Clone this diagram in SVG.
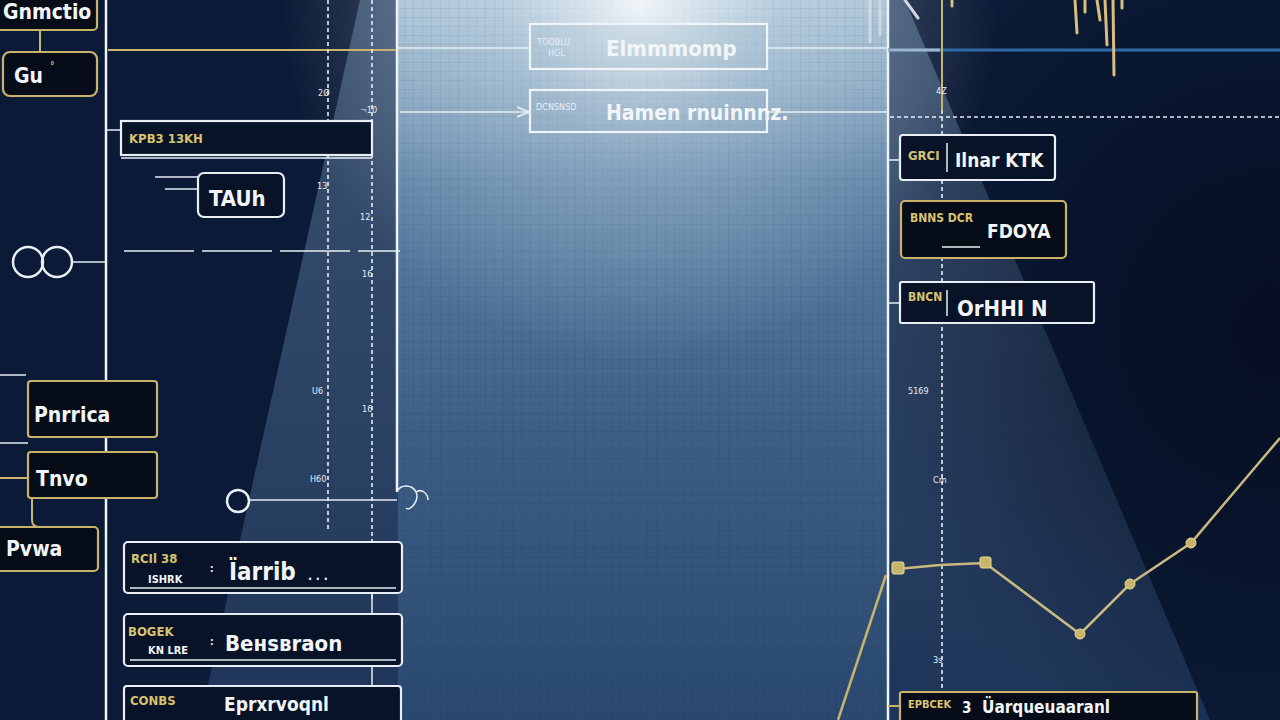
<svg xmlns="http://www.w3.org/2000/svg" width="1280" height="720" viewBox="0 0 1280 720">
<defs>
<linearGradient id="panel" x1="0" y1="0" x2="0" y2="1">
<stop offset="0" stop-color="#a9c3d6"/>
<stop offset="0.25" stop-color="#5d83a6"/>
<stop offset="0.6" stop-color="#3c5f86"/>
<stop offset="1" stop-color="#2a4870"/>
</linearGradient>
<radialGradient id="glow" cx="640" cy="0" r="360" gradientUnits="userSpaceOnUse">
<stop offset="0" stop-color="#ffffff" stop-opacity="0.85"/>
<stop offset="0.4" stop-color="#d6e4ee" stop-opacity="0.35"/>
<stop offset="1" stop-color="#d6e4ee" stop-opacity="0"/>
</radialGradient>
<linearGradient id="cone" x1="0" y1="0" x2="0" y2="1">
<stop offset="0" stop-color="#6e8eae" stop-opacity="0.45"/>
<stop offset="1" stop-color="#2a4670" stop-opacity="0.6"/>
</linearGradient>
<radialGradient id="rdark" cx="1280" cy="330" r="430" gradientUnits="userSpaceOnUse">
<stop offset="0" stop-color="#050d20" stop-opacity="0.9"/>
<stop offset="1" stop-color="#050d20" stop-opacity="0"/>
</radialGradient>
<pattern id="grid" width="9" height="9" patternUnits="userSpaceOnUse">
<path d="M9 0V9M0 9H9" fill="none" stroke="#0e2442" stroke-opacity="0.18" stroke-width="1"/>
</pattern>
<marker id="arr" viewBox="0 0 10 10" refX="9" refY="5" markerWidth="8" markerHeight="8" orient="auto">
<path d="M0 1L10 5L0 9" fill="none" stroke="#e8f0f6" stroke-width="1.5"/>
</marker>
</defs>
<style>
.w{fill:none;stroke:#eef3f7;stroke-width:2.5}
.wt{fill:none;stroke:#e6eef4;stroke-width:1.5}
.g{fill:none;stroke:#c8b46a;stroke-width:2}
.dash{fill:none;stroke:#e6eef4;stroke-width:1.6;stroke-dasharray:4 3}
.bx{fill:#081328;stroke:#e8eef4;stroke-width:2.2}
.gb{fill:#060c18;stroke:#c9b26a;stroke-width:2.2}
.lb{fill:none;stroke:#e8f0f6;stroke-width:2.5}
.t{font-family:"DejaVu Sans Condensed","Liberation Sans Narrow","Liberation Sans",sans-serif;fill:#f2f5f7;font-weight:bold}
.gt{font-family:"DejaVu Sans Condensed","Liberation Sans Narrow","Liberation Sans",sans-serif;fill:#d8c36e;font-weight:bold}
.s{font-family:"DejaVu Sans Condensed","Liberation Sans",sans-serif;fill:#e8eef4;font-size:9px}
</style>
<rect width="1280" height="720" fill="#0b1a36"/>
<polygon points="360,0 905,0 1210,720 200,720" fill="url(#cone)"/>
<rect x="0" y="0" width="1280" height="720" fill="url(#rdark)"/>
<rect x="398" y="0" width="490" height="720" fill="url(#panel)"/>
<rect x="398" y="0" width="490" height="720" fill="url(#grid)"/>
<rect x="0" y="0" width="1280" height="720" fill="url(#glow)"/>

<g id="connectors">
<line class="w" x1="106" y1="0" x2="106" y2="720"/>
<line class="w" x1="397" y1="0" x2="397" y2="492"/>
<line class="w" x1="888" y1="0" x2="888" y2="720"/>
<line class="g" x1="108" y1="50" x2="396" y2="50" stroke-width="1.8"/>
<line class="wt" x1="397" y1="48" x2="530" y2="48"/>
<line class="wt" x1="767" y1="48" x2="888" y2="48"/>
<line class="wt" x1="400" y1="112" x2="528" y2="112" marker-end="url(#arr)"/>
<line class="wt" x1="767" y1="112" x2="888" y2="112"/>
<line x1="888" y1="50" x2="1280" y2="50" stroke="#2f6aa8" stroke-width="3"/>
<line x1="888" y1="50" x2="940" y2="50" stroke="#9fb6ca" stroke-width="3"/>
<line class="dash" x1="890" y1="117" x2="1280" y2="117" stroke-dasharray="5 3"/>
<line x1="942" y1="0" x2="942" y2="110" stroke="#c8b46a" stroke-width="2"/>
<line class="dash" x1="942" y1="110" x2="942" y2="690"/>
<line class="dash" x1="328" y1="0" x2="328" y2="530"/>
<line class="dash" x1="372" y1="0" x2="372" y2="600"/>
<line class="g" x1="40" y1="30" x2="40" y2="52"/>
<line class="wt" x1="124" y1="251" x2="400" y2="251" stroke="#8fb0cc" stroke-dasharray="70 8"/>
<line class="wt" x1="72" y1="262" x2="106" y2="262" stroke-width="2.5"/>
<line class="wt" x1="250" y1="500" x2="397" y2="500" stroke-width="2.5"/>
<path class="wt" d="M397 492 C400 484 412 484 416 492 C420 500 410 512 406 508 M416 492 C422 488 428 494 428 500" stroke-width="2.5"/>
<line class="wt" x1="0" y1="375" x2="26" y2="375" stroke="#7f98b4"/>
<line class="wt" x1="0" y1="443" x2="28" y2="443" stroke="#7f98b4"/>
<line class="g" x1="0" y1="478" x2="28" y2="478"/>
<path class="g" d="M32 498 V520 Q32 527 40 527"/>
<line class="wt" x1="107" y1="130" x2="121" y2="130"/>
<line class="wt" x1="155" y1="177" x2="198" y2="177"/>
<line class="wt" x1="165" y1="189" x2="198" y2="189" stroke-width="2.5"/>
<line class="wt" x1="372" y1="593" x2="372" y2="614"/>
<line class="wt" x1="372" y1="666" x2="372" y2="686"/>
<line class="wt" x1="888" y1="160" x2="900" y2="160"/>
<line class="wt" x1="888" y1="303" x2="900" y2="303"/>
<line class="g" x1="888" y1="706" x2="900" y2="706"/>
<g stroke="#d8bf80" stroke-width="3" stroke-linecap="round">
<line x1="1075" y1="0" x2="1077" y2="33"/>
<line x1="1085" y1="0" x2="1085" y2="12"/>
<line x1="1097" y1="0" x2="1100" y2="20"/>
<line x1="1105" y1="0" x2="1107" y2="45"/>
<line x1="1113" y1="0" x2="1114" y2="75"/>
<line x1="1122" y1="0" x2="1122" y2="8"/>
<line x1="870" y1="0" x2="870" y2="42" stroke="#cfd8e0"/>
<line x1="880" y1="0" x2="880" y2="35" stroke="#cfd8e0"/>
<line x1="905" y1="0" x2="918" y2="18" stroke="#cfd8e0"/>
<line x1="952" y1="0" x2="952" y2="6"/>
</g>
<polyline points="838,720 886,575" fill="none" stroke="#c8b46a" stroke-width="2.5"/>
<polyline points="897,569 940,565 985,563 1080,634 1130,584 1191,543 1280,438" fill="none" stroke="#c9b97e" stroke-width="2.5"/>
<g fill="#c8b46a" stroke="#e6d9a0" stroke-width="1">
<rect x="892" y="562" width="12" height="12" rx="2"/>
<rect x="980" y="557" width="11" height="11" rx="2"/>
<circle cx="1080" cy="634" r="5"/>
<circle cx="1130" cy="584" r="5"/>
<circle cx="1191" cy="543" r="5"/>
</g>
<g class="s">
<text x="318" y="96">2Ø</text>
<text x="360" y="113">¬10</text>
<text x="317" y="189">13</text>
<text x="360" y="220">12</text>
<text x="362" y="277">16</text>
<text x="312" y="394">U6</text>
<text x="362" y="412">16</text>
<text x="310" y="482">H60</text>
<text x="936" y="94">4Z</text>
<text x="908" y="394">5169</text>
<text x="933" y="483">Cm</text>
<text x="933" y="663">3s</text>
</g>
</g>

<g id="n1"><rect class="gb" x="-4" y="-6" width="101" height="36" rx="4"/><text class="t" x="3" y="19" font-size="21">Gnmctio</text></g>
<g id="n2"><rect class="gb" x="3" y="52" width="94" height="44" rx="7"/><text class="t" x="14" y="83" font-size="21">Gu</text><text class="gt" x="50" y="69" font-size="10">°</text></g>
<g id="n3"><rect class="bx" x="121" y="121" width="251" height="34"/><line class="wt" x1="121" y1="158" x2="372" y2="158"/><text class="gt" x="129" y="143" font-size="13">KPB3 13KH</text></g>
<g id="n4"><rect class="bx" x="198" y="173" width="86" height="44" rx="6"/><text class="t" x="209" y="206" font-size="22">TAUh</text></g>
<g id="n5"><circle class="lb" cx="28" cy="262" r="15"/><circle class="lb" cx="57" cy="262" r="15"/></g>
<g id="n6"><rect class="gb" x="28" y="381" width="129" height="56" rx="3"/><text class="t" x="34" y="422" font-size="21">Pnrrica</text></g>
<g id="n7"><rect class="gb" x="28" y="452" width="129" height="46" rx="3"/><text class="t" x="36" y="486" font-size="21">Tnvo</text></g>
<g id="n8"><rect class="gb" x="-4" y="527" width="102" height="44" rx="4"/><text class="t" x="6" y="556" font-size="21">Pvwa</text></g>
<g id="n9"><circle class="lb" cx="238" cy="501" r="11"/></g>

<g id="n10"><rect class="bx" x="124" y="542" width="278" height="51" rx="4"/><line class="wt" x1="130" y1="588" x2="396" y2="588"/><text class="gt" x="131" y="563" font-size="13">RCIl 38</text><text class="t" x="148" y="583" font-size="11">ISHRK</text><text class="t" x="210" y="572" font-size="10">:</text><text class="t" x="229" y="580" font-size="24">Ïarrib</text><text class="t" x="308" y="580" font-size="12">. . .</text></g>
<g id="n11"><rect class="bx" x="124" y="614" width="278" height="52" rx="4"/><line class="wt" x1="130" y1="660" x2="396" y2="660"/><text class="gt" x="128" y="636" font-size="13">BOGEK</text><text class="t" x="148" y="654" font-size="11">KN LRE</text><text class="t" x="210" y="645" font-size="10">:</text><text class="t" x="225" y="651" font-size="22">Beнsвraon</text></g>
<g id="n12"><rect class="bx" x="124" y="686" width="277" height="44" rx="3"/><text class="gt" x="130" y="705" font-size="13">CONBS</text><text class="t" x="224" y="711" font-size="19" fill="#f0d6dc">Eprxrvoqnl</text></g>

<g id="n13"><rect x="530" y="24" width="237" height="45" fill="#9cb6c9" fill-opacity="0.25" stroke="#eef4f8" stroke-width="2.2"/><text class="s" x="537" y="45">TOOBLU</text><text class="s" x="548" y="56">HGL</text><text class="t" x="606" y="56" font-size="22">Elmmmomp</text></g>
<g id="n14"><rect x="530" y="90" width="237" height="42" fill="#9cb6c9" fill-opacity="0.2" stroke="#eef4f8" stroke-width="2.2"/><text class="s" x="536" y="110">DCNSNSD</text><text class="t" x="606" y="120" font-size="21">Hamen rnuinnnz.</text></g>

<g id="n15"><rect class="bx" x="900" y="135" width="155" height="45" rx="3"/><text class="gt" x="908" y="160" font-size="13">GRCI</text><line class="wt" x1="947" y1="143" x2="947" y2="172"/><text class="t" x="955" y="167" font-size="19">Ilnar KTK</text></g>
<g id="n16"><rect class="gb" x="901" y="201" width="165" height="57" rx="4" fill="#081328"/><text class="gt" x="910" y="222" font-size="12">BNNS DCR</text><text class="t" x="987" y="238" font-size="19">FDOYA</text><line class="wt" x1="942" y1="247" x2="980" y2="247"/></g>
<g id="n17"><rect class="bx" x="900" y="282" width="194" height="41" rx="2"/><text class="gt" x="908" y="301" font-size="12">BNCN</text><line class="wt" x1="947" y1="290" x2="947" y2="316"/><text class="t" x="957" y="316" font-size="22">OrHHI N</text></g>
<g id="n18"><rect class="gb" x="900" y="692" width="297" height="40" rx="2" fill="#081328" stroke="#d6aa5a"/><text class="gt" x="908" y="708" font-size="11">ЕРВCЕK</text><text class="t" x="962" y="713" font-size="15">3</text><text class="t" x="982" y="713" font-size="17">Üarqueuaaranl</text></g>
</svg>
